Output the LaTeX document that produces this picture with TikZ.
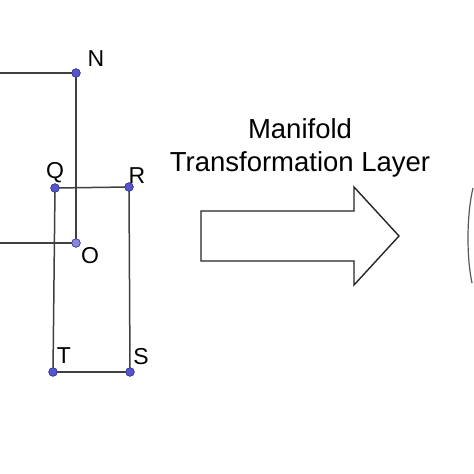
\documentclass[tikz,border=0pt]{standalone}
\usepackage{fontspec}
\setmainfont{Liberation Sans}
\definecolor{dotc}{RGB}{85,85,205}
\definecolor{dotl}{RGB}{135,135,225}
\definecolor{dote}{RGB}{50,50,140}
\begin{document}
\begin{tikzpicture}[x=1pt,y=-1pt,
  seg/.style={draw=black!75, line width=1.5pt},
  pt/.style={circle, fill=dotc, draw=dote, line width=0.5pt, inner sep=0pt, minimum size=8.5pt},
  ptl/.style={circle, fill=dotl, draw=dote, line width=0.5pt, inner sep=0pt, minimum size=8.5pt},
  lab/.style={font=\fontsize{23}{23}\selectfont, inner sep=0pt}]
\useasboundingbox[fill=white] (0,0) rectangle (474,474);
\coordinate (nl) at (0,73);
\coordinate (ol) at (0,243);
\node[pt] (N) at (76,73) {};
\node[ptl] (O) at (76,243) {};
\node[pt] (Q) at (55,188) {};
\node[pt] (R) at (129,187) {};
\node[pt] (T) at (53,372) {};
\node[pt] (S) at (130,372) {};
\draw[seg] (nl) -- (N.center);
\draw[seg] (N.center) -- (O.center);
\draw[seg] (ol) -- (O.center);
\draw[seg] (Q.center) -- (R.center);
\draw[seg] (Q.center) -- (T.center);
\draw[seg] (R.center) -- (S.center);
\draw[seg] (T.center) -- (S.center);
\node[pt] at (N) {};
\node[ptl] at (O) {};
\node[pt] at (Q) {};
\node[pt] at (R) {};
\node[pt] at (T) {};
\node[pt] at (S) {};
\node[lab] (lN) at (96,59) {N};
\node[lab] (lQ) at (55,173) {Q};
\node[lab] (lR) at (137,176) {R};
\node[lab] (lO) at (90,256) {O};
\node[lab] (lT) at (64,356) {T};
\node[lab] (lS) at (141,357) {S};
\node[font=\fontsize{27.5}{33}\selectfont, align=center, inner sep=0pt] (title) at (300,148) {Manifold\\Transformation Layer};
\draw[draw=black!85, line width=1.4pt, line join=miter] (201,211) -- (354,211) -- (354,187) -- (399,236) -- (354,285) -- (354,261) -- (201,261) -- cycle;
\draw[draw=black!65, line width=1.2pt] (473,188) .. controls (466.5,215) and (466.5,258) .. (472,283);
\end{tikzpicture}
\end{document}
